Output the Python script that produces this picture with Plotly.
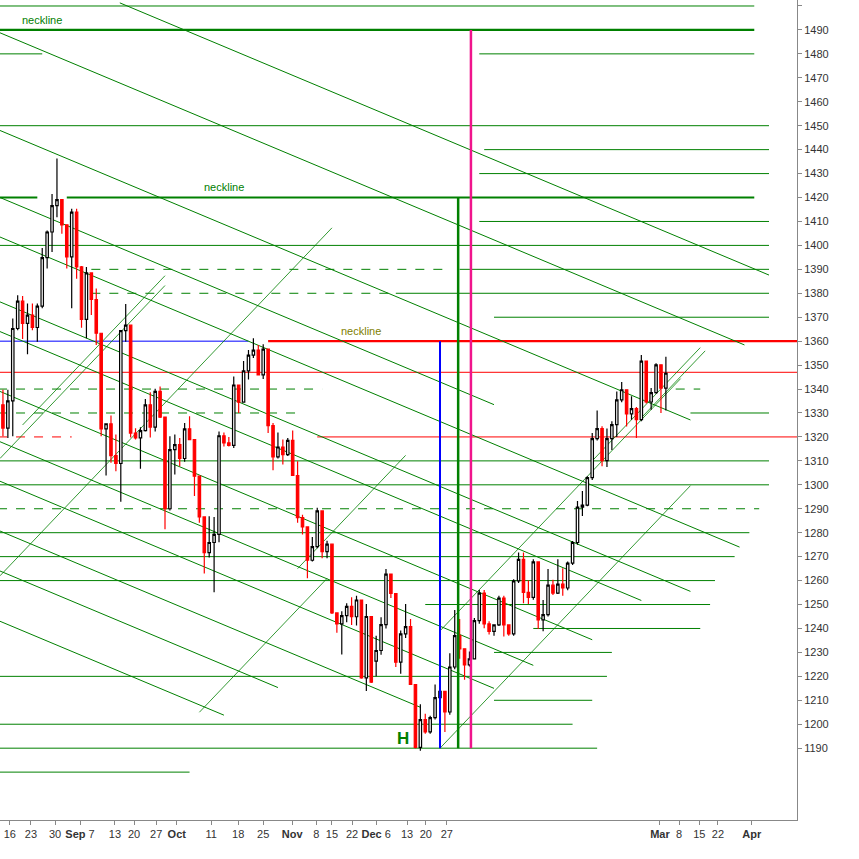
import plotly.graph_objects as go

# OHLC per trading day (index 0..135)
O = [1333.4,1323.7,1335.1,1365.3,1376.7,1367.4,1370.9,1365.7,1374.6,1394.9,1405.6,1416.6,1419.1,1408.6,1395.2,1413.9,1391.0,1369.1,1388.5,1377.4,
     1363.3,1323.4,1325.5,1312.2,1308.9,1364.4,1366.7,1321.6,1319.6,1322.6,1333.4,1324.1,1339.0,1328.3,1290.0,1314.7,1316.8,1311.0,1323.4,1318.9,
     1303.6,1286.6,1271.7,1275.9,1279.3,1320.5,1317.5,1316.5,1341.7,1334.5,1347.6,1354.2,1356.3,1345.9,1356.7,1324.7,1311.7,1315.8,1312.6,1318.6,
     1303.9,1286.3,1282.4,1268.5,1274.2,1289.1,1272.1,1275.2,1246.5,1241.9,1245.4,1249.2,1244.9,1251.9,1219.4,1245.0,1226.4,1230.8,1241.6,1262.7,
     1254.6,1225.9,1237.7,1240.8,1216.6,1190.3,1201.9,1196.8,1202.8,1211.1,1213.7,1205.1,1223.9,1237.0,1231.5,1224.8,1227.3,1243.3,1254.8,1241.9,
     1238.8,1241.5,1252.7,1241.5,1237.7,1259.9,1268.9,1255.1,1253.0,1267.8,1243.6,1245.8,1258.1,1254.8,1258.5,1256.9,1267.3,1275.9,1290.7,1291.5,
     1303.0,1319.3,1323.5,1310.1,1319.3,1325.1,1335.5,1339.7,1329.6,1331.8,1327.2,1351.7,1334.6,1338.5,1350.1,1340.4]
H = [1339.7,1339.7,1369.5,1379.2,1378.9,1375.7,1375.7,1375.7,1398.9,1406.2,1421.5,1436.3,1419.1,1408.6,1415.3,1415.3,1391.4,1391.0,1388.5,1382.0,
     1363.5,1325.5,1329.0,1321.0,1364.4,1375.5,1366.7,1323.6,1324.0,1335.8,1338.7,1340.1,1341.1,1328.3,1320.3,1321.0,1319.6,1325.8,1328.6,1318.9,
     1303.6,1286.6,1286.9,1286.6,1322.3,1321.9,1320.0,1345.2,1341.7,1351.7,1356.3,1361.2,1358.4,1358.7,1356.7,1325.8,1321.9,1318.9,1319.6,1322.7,
     1309.8,1287.5,1282.4,1278.2,1290.4,1289.1,1276.6,1275.2,1246.5,1247.2,1250.5,1253.0,1253.7,1251.9,1250.2,1245.0,1237.0,1244.7,1264.8,1262.7,
     1254.6,1239.1,1250.2,1244.0,1216.6,1208.3,1204.4,1203.5,1216.6,1216.6,1213.7,1229.7,1247.7,1244.0,1231.5,1230.4,1244.4,1256.1,1256.1,1243.0,
     1241.5,1253.7,1253.7,1241.5,1260.6,1271.7,1271.7,1260.0,1268.9,1267.8,1251.9,1264.8,1260.3,1268.9,1265.1,1268.0,1276.5,1293.2,1297.4,1303.6,
     1321.6,1331.0,1324.5,1323.5,1326.5,1339.0,1342.9,1339.7,1337.0,1332.5,1354.2,1351.7,1340.4,1350.8,1350.1,1353.5]
L = [1320.3,1319.6,1320.3,1364.6,1360.9,1354.5,1364.6,1359.8,1373.7,1390.3,1397.2,1411.8,1404.9,1390.3,1373.7,1386.1,1365.6,1361.2,1370.9,1358.4,
     1320.3,1303.9,1309.2,1305.7,1292.9,1359.8,1319.8,1318.9,1306.7,1322.3,1319.8,1322.3,1327.9,1281.4,1289.3,1304.3,1307.8,1309.6,1318.9,1295.3,
     1284.2,1263.0,1269.6,1255.1,1276.0,1316.0,1316.0,1315.4,1330.0,1334.5,1344.0,1353.0,1345.9,1344.2,1321.6,1306.1,1311.0,1308.5,1312.0,1303.9,
     1284.2,1279.3,1261.0,1268.0,1273.5,1269.3,1269.3,1246.0,1238.2,1229.1,1242.6,1241.5,1241.2,1219.0,1213.9,1217.2,1220.0,1229.0,1240.0,1252.7,
     1223.9,1221.1,1236.0,1216.6,1189.9,1188.9,1196.0,1196.0,1202.0,1210.0,1196.8,1204.0,1223.0,1227.3,1218.6,1224.1,1227.0,1242.0,1240.1,1237.5,
     1237.0,1241.0,1236.6,1237.0,1237.0,1259.0,1250.5,1250.2,1252.0,1239.8,1238.8,1245.0,1254.0,1254.4,1253.7,1256.0,1266.5,1275.0,1287.0,1291.0,
     1302.0,1318.5,1307.8,1307.4,1314.5,1320.0,1334.5,1324.4,1327.2,1319.6,1326.5,1334.0,1331.4,1338.0,1330.0,1331.0]
C = [1323.7,1335.1,1365.3,1376.7,1367.4,1370.9,1365.7,1374.6,1394.9,1405.6,1416.6,1419.1,1408.6,1395.2,1413.9,1391.0,1369.1,1388.5,1377.4,1363.3,
     1323.4,1325.5,1312.2,1308.9,1364.4,1366.7,1321.6,1319.6,1322.6,1333.4,1324.1,1339.0,1328.3,1290.0,1314.7,1316.8,1311.0,1323.4,1318.9,1303.6,
     1286.6,1271.7,1275.9,1279.3,1320.5,1317.5,1316.5,1341.7,1334.5,1347.6,1354.2,1356.3,1345.9,1356.7,1324.7,1311.7,1315.8,1312.6,1318.6,1303.9,
     1286.3,1282.4,1268.5,1274.2,1289.1,1272.1,1275.2,1246.5,1241.9,1245.4,1249.2,1244.9,1251.9,1219.4,1245.0,1217.6,1230.8,1241.6,1262.7,1254.6,
     1225.9,1237.7,1240.8,1216.6,1190.3,1201.9,1196.8,1202.8,1211.1,1213.7,1205.1,1223.9,1237.0,1231.5,1224.8,1227.3,1243.3,1254.8,1241.9,1238.8,
     1241.5,1252.7,1241.5,1237.7,1259.9,1268.9,1255.1,1253.0,1267.8,1243.6,1245.8,1258.1,1254.8,1258.5,1256.9,1267.3,1275.9,1290.7,1291.5,1303.0,
     1319.3,1323.5,1310.1,1319.3,1325.1,1335.5,1339.7,1329.6,1331.8,1327.2,1351.7,1334.6,1338.5,1350.1,1340.4,1346.6]
X = list(range(len(O)))

tick_pos = [1.4,5.7,10.6,15.7,22.8,26.7,31.2,35.4,42.4,47.9,53,58.9,63.8,67,71.1,76,82.3,86.1,90.4,133.8,137.7,141.8,145.6,152.5]
tick_txt = ["16","23","30","<b>Sep</b> 7","13","20","27","<b>Oct</b>","11","18","25","<b>Nov</b>","8","15","22","<b>Dec</b> 6","13","20","27","<b>Mar</b>","8","15","22","<b>Apr</b>"]
y_ticks = list(range(1190, 1501, 10))

GREEN = "#008000"
# horizontal levels: (price, x0, x1, width, dash, color)
h_levels = [
    (1500, -1, 153, 1, "solid", GREEN), (1490, -1, 153, 2.2, "solid", GREEN),
    (1480, -1, 8, 1, "solid", GREEN), (1480, 97, 153, 1, "solid", GREEN),
    (1450, -1, 156, 1, "solid", GREEN), (1440, 98, 156, 1, "solid", GREEN),
    (1430, 97, 156, 1, "solid", GREEN),
    (1420, -1, 7, 2.2, "solid", GREEN), (1420, 13, 153, 2.2, "solid", GREEN),
    (1410, 97, 156, 1, "solid", GREEN), (1400, -1, 156, 1, "solid", GREEN),
    (1390, 18, 90, 1, "dash", GREEN), (1390, 93, 156, 1, "solid", GREEN),
    (1380, 18, 80, 1, "dash", GREEN), (1380, 80, 156, 1, "solid", GREEN),
    (1370, 100, 156, 1, "solid", GREEN),
    (1360, -1, 50, 1, "solid", "#0000ff"), (1360, 54, 162, 2.2, "solid", "#ff0000"),
    (1347, -1, 162, 1, "solid", "#ff0000"),
    (1340, -1, 65, 1, "dash", GREEN), (1340, 137, 142, 1, "dash", GREEN),
    (1330, -1, 60, 1, "dash", GREEN), (1330, 140, 156, 1, "solid", GREEN),
    (1320, -1, 14, 1, "dash", "#ff0000"), (1320, 64, 162, 1, "solid", "#ff0000"),
    (1310, -1, 156, 1, "solid", GREEN), (1300, -1, 156, 1, "solid", GREEN),
    (1290, -1, 154, 1, "dash", GREEN), (1280, -1, 152, 1, "solid", GREEN),
    (1270, -1, 149, 1, "solid", GREEN), (1260, -1, 145, 1, "solid", GREEN),
    (1250, 86, 144, 1, "solid", GREEN), (1240, 108, 142, 1, "solid", GREEN),
    (1230, 100, 124, 1, "solid", GREEN), (1220, -1, 123, 1, "solid", GREEN),
    (1210, 100, 120, 1, "solid", GREEN), (1200, -1, 116, 1, "solid", GREEN),
    (1190, -1, 121, 1, "solid", GREEN), (1180, -1, 38, 1, "solid", GREEN),
]
# descending trend lines: (start idx, start price, end idx), slope per day
down_slope = -0.86
down_lines = [(23.8, 1501.3, 156), (-0.6, 1488.8, 151), (-0.6, 1448, 140), (-0.6, 1420, 100),
              (-0.6, 1403.5, 150), (-0.6, 1376.4, 140), (-0.6, 1364, 130), (-0.6, 1339, 120),
              (-0.6, 1318, 108), (-0.6, 1301.5, 100), (-0.6, 1280.7, 85), (-0.6, 1264, 56), (-0.6, 1243, 45)]
# ascending thin lines: (start idx, start price, end idx)
up_slope = 2.15
up_lines = [(89, 1190, 140), (89, 1239, 138), (60, 1265, 82), (40, 1205, 66), (-0.6, 1262, 67),
            (-0.6, 1311, 33), (4, 1325, 33), (120, 1310, 142), (130, 1328, 143)]
verticals = [(89.0, 1190, 1360, "#0000ff", 2), (92.7, 1190, 1420, GREEN, 2.5), (95.3, 1190, 1490, "#f0148c", 2.5)]

fig = go.Figure()
shapes = []
for p, a, b, w, d, col in h_levels:
    shapes.append(dict(type="line", x0=a, x1=b, y0=p, y1=p, line=dict(color=col, width=w, dash=d), layer="below"))
for a, p, b in down_lines:
    shapes.append(dict(type="line", x0=a, x1=b, y0=p, y1=p + down_slope * (b - a), line=dict(color=GREEN, width=1), layer="below"))
for a, p, b in up_lines:
    shapes.append(dict(type="line", x0=a, x1=b, y0=p, y1=p + up_slope * (b - a), line=dict(color=GREEN, width=0.8), layer="below"))
for xv, y0, y1, col, w in verticals:
    shapes.append(dict(type="line", x0=xv, x1=xv, y0=y0, y1=y1, line=dict(color=col, width=w)))

fig.add_trace(go.Candlestick(x=X, open=O, high=H, low=L, close=C,
    increasing=dict(line=dict(color="black", width=1.2), fillcolor="white"),
    decreasing=dict(line=dict(color="red", width=1.2), fillcolor="red"),
    whiskerwidth=0, showlegend=False, hoverinfo="skip"))

annots = [dict(x=8, y=1491, text="neckline", showarrow=False, font=dict(color=GREEN, size=11), yanchor="bottom"),
          dict(x=45, y=1421, text="neckline", showarrow=False, font=dict(color=GREEN, size=11), yanchor="bottom"),
          dict(x=73, y=1361, text="neckline", showarrow=False, font=dict(color="#808000", size=11), yanchor="bottom"),
          dict(x=81.5, y=1194, text="<b>H</b>", showarrow=False, font=dict(color=GREEN, size=17))]

fig.update_layout(width=859, height=859, margin=dict(l=0, r=62, t=0, b=39),
    paper_bgcolor="white", plot_bgcolor="white", shapes=shapes, annotations=annots,
    font=dict(family="Liberation Sans, Arial", size=11, color="#333"),
    xaxis=dict(range=[-0.6, 161.7], rangeslider=dict(visible=False), tickvals=tick_pos, ticktext=tick_txt,
               showgrid=False, zeroline=False, showline=True, linecolor="#888", ticks="outside", ticklen=4, tickcolor="#888"),
    yaxis=dict(range=[1160, 1502.5], side="right", tickvals=y_ticks, showgrid=False, zeroline=False,
               showline=True, linecolor="#888", ticks="outside", ticklen=4, tickcolor="#888"))
fig.write_html("out.html", config={"displayModeBar": False},
               post_script="document.body.style.margin='0';document.body.style.overflow='hidden';window.dispatchEvent(new Event('resize'));")
